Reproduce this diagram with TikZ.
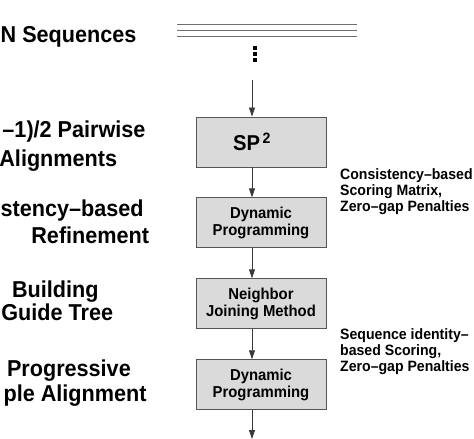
\documentclass[tikz,border=0pt]{standalone}
\usepackage{fontspec}
\setmainfont{Liberation Sans}
\newfontfamily\tallfam[FakeStretch=0.94]{Liberation Sans}
\usetikzlibrary{arrows.meta, positioning}
\definecolor{boxfill}{HTML}{DADADA}
\definecolor{boxline}{HTML}{555555}
\definecolor{arrline}{HTML}{3A3A3A}
\definecolor{seqline}{HTML}{6E6E6E}

\begin{document}
\begin{tikzpicture}[x=1pt, y=-1pt, node distance=30pt,
  stage/.style={draw=boxline, fill=boxfill, line width=0.9pt, minimum width=130pt,
                minimum height=50pt, align=center, inner sep=0pt,
                font=\tallfam\bfseries\fontsize{15.8}{17}\selectfont},
  lab/.style={anchor=base east, inner sep=0pt,
              font=\tallfam\bfseries\fontsize{23}{25}\selectfont},
  note/.style={anchor=base west, align=left, inner sep=0pt,
               font=\tallfam\bfseries\fontsize{15}{16}\selectfont},
  arr/.style={draw=arrline, line width=0.8pt, -{Triangle[length=9pt, width=6pt]}}]
  \useasboundingbox (0,0) rectangle (474,439);

  % input sequences
  \foreach \y in {24,30.3,36.3}
    \draw[seqline, line width=1pt] (177,\y) -- (357,\y);
  \draw[black, line width=4pt, dash pattern=on 4pt off 2pt] (255,46) -- (255,62);
  \coordinate (seqend) at (252,80);
  \coordinate (out) at (252,439);

  % pipeline boxes
  \node[stage, font=\tallfam\bfseries\fontsize{21.5}{23}\selectfont] (sp) at (261,142)
    {SP\textsuperscript{\,2}\hspace{18pt}};
  \node[stage, below=of sp]  (dp1) {Dynamic\\Programming};
  \node[stage, below=of dp1] (nj)  {Neighbor\\Joining Method};
  \node[stage, below=of nj]  (dp2) {Dynamic\\Programming};

  \draw[arr] (seqend) -- (sp.north -| seqend);
  \draw[arr] (sp.south -| seqend) -- (dp1.north -| seqend);
  \draw[arr] (dp1.south -| seqend) -- (nj.north -| seqend);
  \draw[arr] (nj.south -| seqend) -- (dp2.north -| seqend);
  \draw[arr] (dp2.south -| seqend) -- (out);

  % stage labels
  \node[lab, anchor=base west] (l1) at (0.5,42.3) {N Sequences};
  \node[lab] (l2a) at (145.7,137.3) {–1)/2 Pairwise};
  \node[lab] (l2b) at (117.3,166.7) {Alignments};
  \node[lab, anchor=base west] (l3a) at (0.5,216.7) {stency–based};
  \node[lab] (l3b) at (149.3,243.3) {Refinement};
  \node[lab] (l4a) at (98.7,297.3)  {Building};
  \node[lab] (l4b) at (113.3,320.7) {Guide Tree};
  \node[lab] (l5a) at (131,376.7)   {Progressive};
  \node[lab] (l5b) at (146.7,401.7) {ple Alignment};

  % scoring notes
  \node[note] (n1) at (340,211.7) {Consistency–based\\Scoring Matrix,\\Zero–gap Penalties};
  \node[note] (n2) at (340,371.7) {Sequence identity–\\based Scoring,\\Zero–gap Penalties};
\end{tikzpicture}
\end{document}
